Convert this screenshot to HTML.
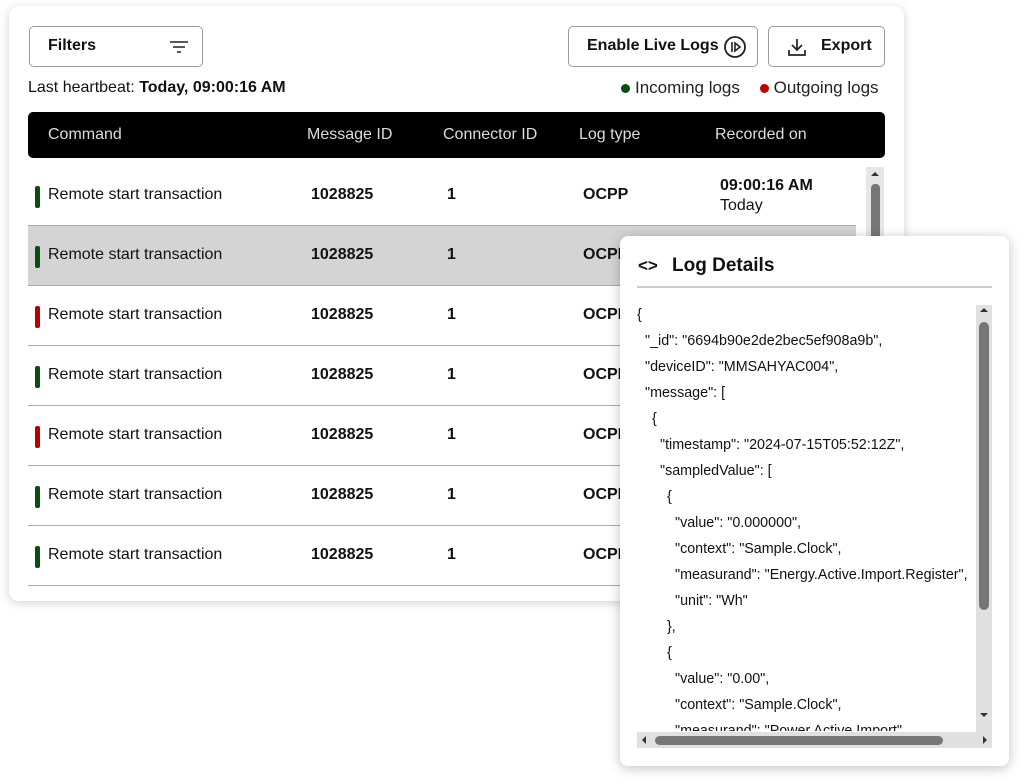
<!DOCTYPE html>
<html><head><meta charset="utf-8"><style>
body{margin:0;width:1024px;height:784px;background:#fff;font-family:"Liberation Sans",sans-serif;position:relative;overflow:hidden;color:#111}
.abs{position:absolute}
.card{left:9px;top:6px;width:895px;height:595px;background:#fff;border-radius:10px;box-shadow:0 2px 10px rgba(0,0,0,.18)}
.btn{border:1.5px solid #9a9a9a;border-radius:5px;background:#fff;font-size:16px;font-weight:bold;box-sizing:border-box}
.hdr{left:28px;top:112px;width:857px;height:46px;background:#000;border-radius:5px;color:#ddd;font-size:16px}
.hdr span{position:absolute;top:14px}
.row{left:28px;width:828px;height:59px;border-bottom:1.5px solid #aaa;font-size:16px}
.row span{position:absolute;top:20px}
.bar{position:absolute;left:7px;top:20px;width:5px;height:22px;border-radius:2px}
.panel{left:620px;top:236px;width:389px;height:530px;background:#fff;border-radius:8px;box-shadow:0 2px 12px rgba(0,0,0,.25)}
.code{font-size:14.3px;color:#111}
.code div{position:absolute;white-space:nowrap}
</style></head><body>
<div class="abs card"></div>
<div class="abs btn" style="left:29px;top:26px;width:174px;height:41px"><span class="abs" style="left:18px;top:10px">Filters</span>
<svg class="abs" style="left:139px;top:12px" width="20" height="16"><path d="M1 3h18M4 8h12M8 13h4" stroke="#222" stroke-width="1.6"/></svg></div>
<div class="abs btn" style="left:568px;top:26px;width:190px;height:41px"><span class="abs" style="left:18px;top:10px">Enable Live Logs</span>
<svg class="abs" style="left:154px;top:8px" width="24" height="24"><circle cx="12" cy="12" r="10" fill="none" stroke="#222" stroke-width="1.8"/><path d="M9 7v10M12 8l5 4-5 4z" stroke="#222" stroke-width="1.6" fill="none"/></svg></div>
<div class="abs btn" style="left:768px;top:26px;width:117px;height:41px"><svg class="abs" style="left:18px;top:10px" width="20" height="20"><path d="M10 2v11M5 8l5 5 5-5M2 13v5h16v-5" stroke="#222" stroke-width="1.7" fill="none"/></svg><span class="abs" style="left:52px;top:10px">Export</span></div>
<div class="abs" style="left:28px;top:79px;font-size:16px">Last heartbeat: <b>Today, 09:00:16 AM</b></div>
<div class="abs" style="left:621px;top:78px;font-size:17px;color:#222"><span style="display:inline-block;width:9px;height:9px;border-radius:50%;background:#0a4d12;margin-right:5px"></span>Incoming logs <span style="display:inline-block;width:9px;height:9px;border-radius:50%;background:#b00;margin:0 5px 0 15px"></span>Outgoing logs</div>
<div class="abs hdr"><span style="left:20px">Command</span><span style="left:279px">Message ID</span><span style="left:415px">Connector ID</span><span style="left:551px">Log type</span><span style="left:687px">Recorded on</span></div>
<div class="abs row" style="top:166px"><i class="bar" style="background:#0a4d12"></i><span style="left:20px">Remote start transaction</span><span style="left:283px;font-weight:bold">1028825</span><span style="left:419px;font-weight:bold">1</span><span style="left:555px;font-weight:bold">OCPP</span><span style="left:692px;top:10px;line-height:20px"><b>09:00:16 AM</b><br>Today</span></div>
<div class="abs row" style="top:226px;background:#d4d4d4"><i class="bar" style="background:#0a4d12"></i><span style="left:20px">Remote start transaction</span><span style="left:283px;font-weight:bold">1028825</span><span style="left:419px;font-weight:bold">1</span><span style="left:555px;font-weight:bold">OCPP</span></div>
<div class="abs row" style="top:286px"><i class="bar" style="background:#b00"></i><span style="left:20px">Remote start transaction</span><span style="left:283px;font-weight:bold">1028825</span><span style="left:419px;font-weight:bold">1</span><span style="left:555px;font-weight:bold">OCPP</span></div>
<div class="abs row" style="top:346px"><i class="bar" style="background:#0a4d12"></i><span style="left:20px">Remote start transaction</span><span style="left:283px;font-weight:bold">1028825</span><span style="left:419px;font-weight:bold">1</span><span style="left:555px;font-weight:bold">OCPP</span></div>
<div class="abs row" style="top:406px"><i class="bar" style="background:#b00"></i><span style="left:20px">Remote start transaction</span><span style="left:283px;font-weight:bold">1028825</span><span style="left:419px;font-weight:bold">1</span><span style="left:555px;font-weight:bold">OCPP</span></div>
<div class="abs row" style="top:466px"><i class="bar" style="background:#0a4d12"></i><span style="left:20px">Remote start transaction</span><span style="left:283px;font-weight:bold">1028825</span><span style="left:419px;font-weight:bold">1</span><span style="left:555px;font-weight:bold">OCPP</span></div>
<div class="abs row" style="top:526px"><i class="bar" style="background:#0a4d12"></i><span style="left:20px">Remote start transaction</span><span style="left:283px;font-weight:bold">1028825</span><span style="left:419px;font-weight:bold">1</span><span style="left:555px;font-weight:bold">OCPP</span></div>
<div class="abs" style="left:866px;top:167px;width:18px;height:80px;background:#e6e6e6"></div>
<div class="abs" style="left:871px;top:184px;width:9px;height:60px;background:#777;border-radius:4px"></div>
<div class="abs" style="left:871px;top:172px;width:0;height:0;border:4px solid transparent;border-bottom-color:#333;border-top:none"></div>

<div class="abs panel"></div>
<div class="abs" style="left:638px;top:256px;font-size:17px;font-weight:bold">&lt;&gt;</div>
<div class="abs" style="left:672px;top:255px;font-size:19px;font-weight:bold">Log Details</div>
<div class="abs" style="left:637px;top:286px;width:355px;height:1.5px;background:#ccc"></div>
<div class="abs code" style="left:0;top:0">
<div style="left:637px;top:307px">{</div>
<div style="left:645px;top:333px">"_id": "6694b90e2de2bec5ef908a9b",</div>
<div style="left:645px;top:359px">"deviceID": "MMSAHYAC004",</div>
<div style="left:645px;top:385px">"message": [</div>
<div style="left:652px;top:411px">{</div>
<div style="left:660px;top:437px">"timestamp": "2024-07-15T05:52:12Z",</div>
<div style="left:660px;top:463px">"sampledValue": [</div>
<div style="left:667px;top:489px">{</div>
<div style="left:675px;top:515px">"value": "0.000000",</div>
<div style="left:675px;top:541px">"context": "Sample.Clock",</div>
<div style="left:675px;top:567px;width:301px;overflow:hidden">"measurand": "Energy.Active.Import.Register",</div>
<div style="left:675px;top:593px">"unit": "Wh"</div>
<div style="left:667px;top:619px">},</div>
<div style="left:667px;top:645px">{</div>
<div style="left:675px;top:671px">"value": "0.00",</div>
<div style="left:675px;top:697px">"context": "Sample.Clock",</div>
<div style="left:675px;top:723px;height:8px;overflow:hidden">"measurand": "Power.Active.Import",</div>
</div>
<div class="abs" style="left:976px;top:305px;width:16px;height:427px;background:#e0e0e0"></div>
<div class="abs" style="left:979px;top:322px;width:10px;height:288px;background:#777;border-radius:5px"></div>
<div class="abs" style="left:637px;top:732px;width:355px;height:16px;background:#e0e0e0"></div>
<div class="abs" style="left:655px;top:736px;width:288px;height:9px;background:#777;border-radius:5px"></div>
<div class="abs" style="left:984px;top:308px;border:4px solid transparent;border-bottom-color:#333;border-top:none;transform:translateX(-4px)"></div>
<div class="abs" style="left:980px;top:713px;border:4px solid transparent;border-top-color:#333;border-bottom:none"></div>
<div class="abs" style="left:642px;top:736px;border:4px solid transparent;border-right-color:#333;border-left:none"></div>
<div class="abs" style="left:983px;top:736px;border:4px solid transparent;border-left-color:#333;border-right:none"></div>
</body></html>
